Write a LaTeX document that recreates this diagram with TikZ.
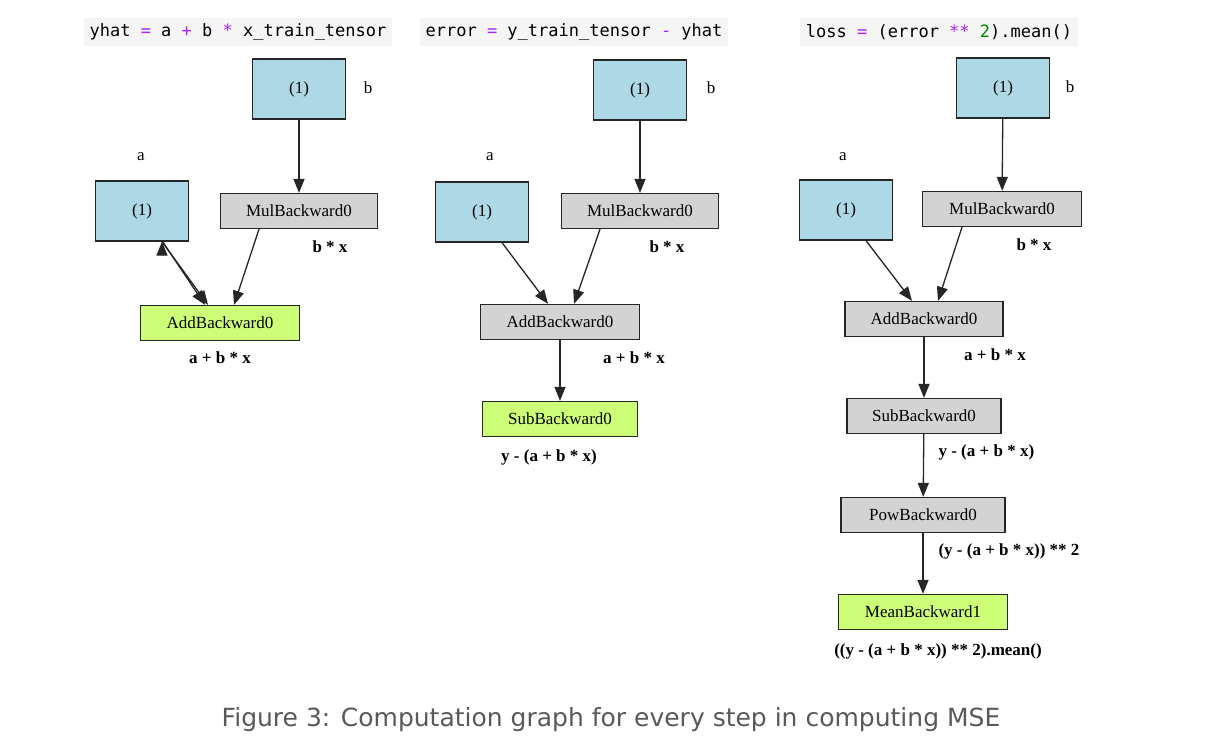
\documentclass[tikz,border=0pt]{standalone}
\usepackage{fontspec}
\setmainfont{Liberation Serif}
\newfontfamily\codef{DejaVu Sans Mono}
\newfontfamily\capf{DejaVu Sans}
\usetikzlibrary{arrows.meta}
\definecolor{leaf}{HTML}{ADD8E6}
\definecolor{op}{HTML}{D3D3D3}
\definecolor{out}{HTML}{CCFF77}
\definecolor{codebg}{HTML}{F5F5F5}
\definecolor{kw}{HTML}{AA22FF}
\definecolor{num}{HTML}{008800}
\newcommand{\kop}[1]{\textcolor{kw}{#1}}
\begin{document}
\begin{tikzpicture}[x=1pt,y=-1pt,
  box/.style={draw=black!85,line width=1.3pt,font=\fontsize{17}{17}\selectfont,inner sep=0pt},
  leafn/.style={box,fill=leaf,minimum width=93,minimum height=60},
  opn/.style={box,fill=op,minimum width=157,minimum height=35},
  outn/.style={box,fill=out,minimum width=157,minimum height=35},
  lbl/.style={font=\fontsize{17}{17}\selectfont},
  code/.style={fill=codebg,font=\codef\fontsize{17}{17}\selectfont,minimum height=28,inner xsep=6pt},
  edge/.style={draw=black!85,line width=1.3pt,-{Triangle[length=14pt,width=11pt]}}]
\useasboundingbox (0,0) rectangle (1222,752);
\fill[white] (0,0) rectangle (1222,752);
% Panel 1
\node[code] (c1) at (238,32) {yhat \kop{=} a \kop{+} b \kop{*} x\_train\_tensor};
\node[leafn] (b1) at (299,89) {\raisebox{-8pt}{(1)}};
\node[lbl] (bl1) at (368,88) {b};
\node[lbl] (al1) at (141,157) {a};
\node[leafn] (a1) at (142,211) {\raisebox{-8pt}{(1)}};
\node[opn] (m1) at (299,211) {MulBackward0};
\node[lbl] (ml1) at (330,247) {\textbf{b * x}};
\node[outn,minimum width=159] (ad1) at (220,323) {AddBackward0};
\node[lbl] (adl1) at (220,358) {\textbf{a + b * x}};
\draw[edge] (b1) -- (m1);
\draw[edge] (a1) -- (ad1.north west -| 205,0);
\draw[edge] (a1.south) ++(20,0) coordinate (a1s) ;
% Panel 2
\node[code] (c2) at (574,32) {error \kop{=} y\_train\_tensor \kop{-} yhat};
\node[leafn] (b2) at (640,90) {\raisebox{-8pt}{(1)}};
\node[lbl] (bl2) at (711,88) {b};
\node[lbl] (al2) at (490,157) {a};
\node[leafn] (a2) at (482,212) {\raisebox{-8pt}{(1)}};
\node[opn] (m2) at (640,211) {MulBackward0};
\node[lbl] (ml2) at (667,247) {\textbf{b * x}};
\node[opn,minimum width=159] (ad2) at (560,322) {AddBackward0};
\node[lbl] (adl2) at (634,358) {\textbf{a + b * x}};
\node[outn,minimum width=155] (s2) at (560,419) {SubBackward0};
\node[lbl] (sl2) at (549,457) {\textbf{y - (a + b * x)}};
\draw[edge] (b2) -- (m2);
\draw[edge] (ad2) -- (s2);
% Panel 3
\node[code] (c3) at (939,32) {loss \kop{=} (error \kop{**} \textcolor{num}{2}).mean()};
\node[leafn] (b3) at (1003,88) {\raisebox{-8pt}{(1)}};
\node[lbl] (bl3) at (1070,87) {b};
\node[lbl] (al3) at (843,157) {a};
\node[leafn] (a3) at (846,210) {\raisebox{-8pt}{(1)}};
\node[opn,minimum width=159] (m3) at (1002,209) {MulBackward0};
\node[lbl] (ml3) at (1034,245) {\textbf{b * x}};
\node[opn,minimum width=158] (ad3) at (924,319) {AddBackward0};
\node[lbl] (adl3) at (995,355) {\textbf{a + b * x}};
\node[opn,minimum width=154] (s3) at (924,416) {SubBackward0};
\node[lbl,anchor=west] (sl3) at (935,452) {\textbf{y - (a + b * x)}};
\node[opn,minimum width=164] (p3) at (923,515) {PowBackward0};
\node[lbl,anchor=west] (pl3) at (935,551) {\textbf{(y - (a + b * x)) ** 2}};
\node[outn,minimum width=169] (mn3) at (923,612) {MeanBackward1};
\node[lbl] (mnl3) at (938,651) {\textbf{((y - (a + b * x)) ** 2).mean()}};
\draw[edge] (b3) -- (m3);
\draw[edge] (ad3) -- (s3);
\draw[edge] (s3) -- (p3);
\draw[edge] (p3) -- (mn3);
% diagonal edges
\foreach \a/\m/\d in {a1/m1/ad1,a2/m2/ad2,a3/m3/ad3}{
  \draw[edge] ([xshift=20]\a.south) -- ([xshift=-12]\d.north);
  \draw[edge] ([xshift=-40]\m.south) -- ([xshift=14]\d.north);
}
\node[font=\capf\fontsize{25}{25}\selectfont,text=black!65] (cap) at (611,720) {Figure 3: Computation graph for every step in computing MSE};
\end{tikzpicture}
\end{document}
